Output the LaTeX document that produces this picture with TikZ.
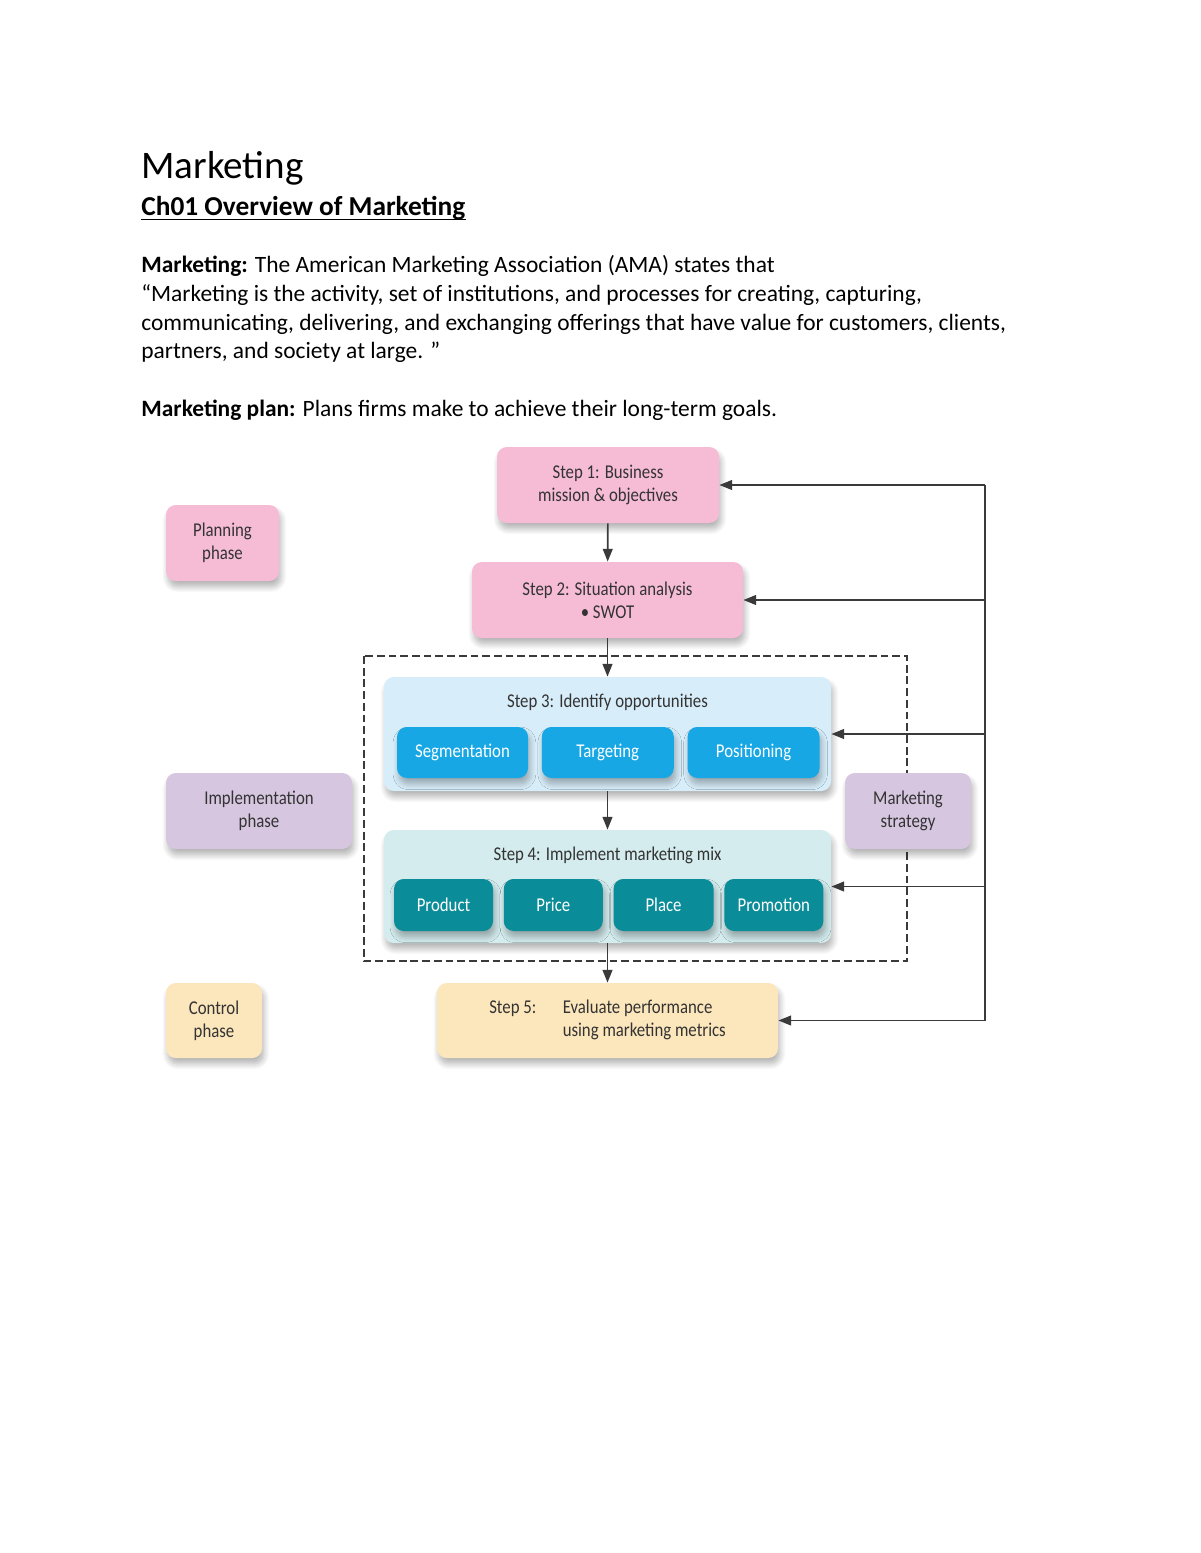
\documentclass[tikz,border=0pt]{standalone}
\usepackage{fontspec}
\setmainfont{Carlito}
\newfontfamily\diagfont[FakeStretch=0.86]{Carlito}
\usetikzlibrary{positioning,arrows.meta,shadows.blur}

\definecolor{pinkbox}{HTML}{F6BCD6}
\definecolor{bluebg}{HTML}{D7EEFA}
\definecolor{bluebox}{HTML}{17A7E4}
\definecolor{tealbg}{HTML}{D4ECEE}
\definecolor{tealbox}{HTML}{0B8C99}
\definecolor{yellowbox}{HTML}{FCE6BC}
\definecolor{lilacbox}{HTML}{D6C6E0}
\definecolor{txtgray}{HTML}{333333}
\definecolor{linegray}{HTML}{3A3A3A}

\begin{document}
\begin{tikzpicture}[x=0.18mm, y=-0.18mm,
    txt/.style={anchor=base west, inner sep=0pt, font=\fontsize{12}{14.5}\selectfont},
    size/.style 2 args={minimum width=#1*0.18mm, minimum height=#2*0.18mm},
    label/.style={inner sep=0pt, align=center, text=txtgray, font=\diagfont\fontsize{10}{11.7}\selectfont},
    box/.style={label, rounded corners=5pt,
        blur shadow={shadow xshift=1pt, shadow yshift=-3pt, shadow blur radius=3pt,
            shadow blur steps=8, shadow opacity=30}},
    subbox/.style={box, text=white, size={#1}{51}},
    arr/.style={-{Triangle[length=6.5pt,width=5pt]}, line width=0.85pt, draw=linegray},
    frame/.style={dash pattern=on 4pt off 2pt, line width=0.85pt, draw=linegray}]
    \useasboundingbox (0,0) rectangle (1200,1553);

    % Text
    \node (title) [txt, font=\fontsize{20}{24}\selectfont] at (141,179) {Marketing};
    \node (sub) [txt, font=\bfseries\fontsize{14}{17}\selectfont] at (141,216) {Ch01 Overview of Marketing};
    \draw[line width=0.8pt] ([yshift=-1.7pt]sub.base west) -- ([yshift=-1.7pt]sub.base east);
    \node (l1) [txt] at (141,273) {\textbf{Marketing:} The American Marketing Association (AMA) states that};
    \node (l2) [txt] at (141,302) {“Marketing is the activity, set of institutions, and processes for creating, capturing,};
    \node (l3) [txt] at (141,331) {communicating, delivering, and exchanging offerings that have value for customers, clients,};
    \node (l4) [txt] at (141,359) {partners, and society at large. ”};
    \node (plan) [txt] at (141,417) {\textbf{Marketing plan:} Plans firms make to achieve their long-term goals.};

    % Dashed strategy frame
    \draw[frame] (364,656) rectangle (907,961);

    % Nodes
    \node (s1) [box, fill=pinkbox, size={222}{76}] at (608,485) {Step 1: Business\\mission \& objectives};
    \node (plph) [box, fill=pinkbox, size={113}{76}] at (222.5,543) {Planning\\phase};
    \node (s2) [box, fill=pinkbox, size={271}{76}] at (607.5,600) {Step 2: Situation analysis\\\textbullet\ SWOT};

    \node (s3) [box, fill=bluebg, size={447}{114}] at (607.5,734) {};
    \node (s3t) [label] at (607.5,702) {Step 3: Identify opportunities};
    \node (seg) [subbox=131, fill=bluebox] at (462.5,752.5) {Segmentation};
    \node (tgt) [subbox=132, fill=bluebox, right=2.34mm of seg] {Targeting};
    \node (pos) [subbox=132, fill=bluebox, right=2.34mm of tgt] {Positioning};

    \node (s4) [box, fill=tealbg, size={447}{113}] at (607.5,886.5) {};
    \node (s4t) [label] at (607.5,855) {Step 4: Implement marketing mix};
    \node (prod) [subbox=99, fill=tealbox, size={99}{52}] at (443.5,905) {Product};
    \node (price) [subbox=99, fill=tealbox, size={99}{52}, right=1.8mm of prod] {Price};
    \node (place) [subbox=100, fill=tealbox, size={100}{52}, right=1.8mm of price] {Place};
    \node (promo) [subbox=99, fill=tealbox, size={99}{52}, right=1.8mm of place] {Promotion};

    \node (s5) [box, fill=yellowbox, size={341}{75}] at (607.5,1020.5)
        {\begin{tabular}{@{}l@{\hspace{13.5pt}}l@{}}Step 5: & Evaluate performance\\ & using marketing metrics\end{tabular}};
    \node (ctph) [box, fill=yellowbox, size={96}{75}] at (214,1020.5) {Control\\phase};
    \node (imph) [box, fill=lilacbox, size={186}{76}] at (259,811) {Implementation\\phase};
    \node (strat) [box, fill=lilacbox, size={126}{76}] at (908,811) {Marketing\\strategy};

    % Feedback points
    \coordinate (fb1) at (985,485);
    \coordinate (fb2) at (985,600);
    \coordinate (fb3) at (985,734);
    \coordinate (fb4) at (985,886.5);
    \coordinate (fb5) at (985,1020.5);

    % Arrows
    \draw[arr] (s1) -- (s2);
    \draw[arr] (s2) -- (s3);
    \draw[arr] (s3) -- (s4);
    \draw[arr] (s4) -- (s5);
    \draw[line width=0.85pt, draw=linegray] (fb1) -- (fb5);
    \draw[arr] (fb1) -- (s1.east);
    \draw[arr] (fb2) -- (s2.east);
    \draw[arr] (fb3) -- (s3.east);
    \draw[arr] (fb4) -- (s4.east);
    \draw[arr] (fb5) -- (s5.east);
\end{tikzpicture}
\end{document}
